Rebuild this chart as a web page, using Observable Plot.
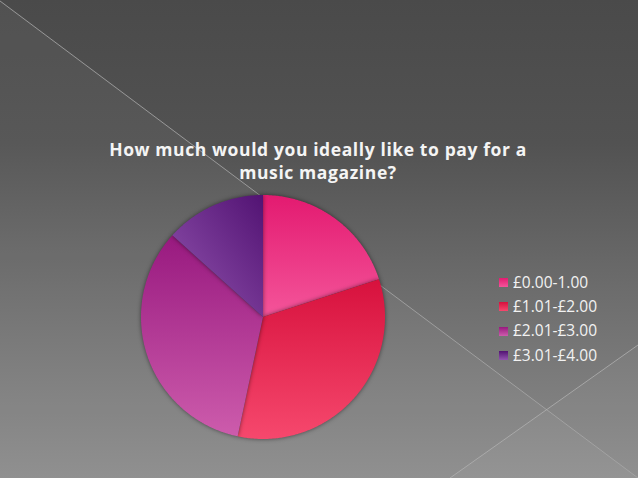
<!DOCTYPE html>
<html>
<head>
<meta charset="utf-8">
<script src="https://cdn.jsdelivr.net/npm/d3@7"></script>
<script src="https://cdn.jsdelivr.net/npm/@observablehq/plot@0.6"></script>
<style>
  html, body { margin: 0; padding: 0; background: #4b4b4b; }
  #slide { position: relative; width: 638px; height: 478px; overflow: hidden;
    background: linear-gradient(to bottom, #4a4a4a 0%, #525252 30%, #6c6c6c 60%, #8c8c8c 100%); }
  #bg, #chart { position: absolute; left: 0; top: 0; }
  #title { position: absolute; left: 0; width: 636px; top: 138px; text-align: center;
    font-family: "Open Sans", sans-serif; font-weight: 700; font-size: 17.5px; letter-spacing: 0.6px; line-height: 23px; color: #f4f4f4; }
  #legend { position: absolute; left: 499px; top: 270px; font-family: "Open Sans", sans-serif;
    font-size: 15.5px; line-height: 24.2px; color: #f2f2f2; }
  #legend .row { display: flex; align-items: center; white-space: nowrap; }
  #legend .sw { width: 9px; height: 9px; margin-right: 5px; margin-top: 1px; }
</style>
</head>
<body>
<div id="slide">
  <svg id="bg" width="638" height="478">
    <polygon points="0,0 638,478 0,478" fill="#ffffff" fill-opacity="0.04"></polygon>
    <polygon points="450,478 638,345 638,478" fill="#ffffff" fill-opacity="0.04"></polygon>
    <line x1="0" y1="1" x2="638" y2="478" stroke="#a8a8a8" stroke-width="1" stroke-opacity="0.8"></line>
    <line x1="450" y1="478" x2="638" y2="345" stroke="#b0b0b0" stroke-width="1" stroke-opacity="0.8"></line>
  </svg>
  <div id="chart"></div>
  <div id="title">How much would you ideally like to pay for a<br>music magazine?</div>
  <div id="legend"></div>
</div>
<script>
const categories = ["£0.00-1.00", "£1.01-£2.00", "£2.01-£3.00", "£3.01-£4.00"];
const counts = [3, 5, 5, 2];
const gradTop = ["#e31a70", "#d7113d", "#98197f", "#521373"];
const gradBottom = ["#f4559a", "#f6486d", "#cd5cac", "#9355b0"];

// slice outlines on a unit circle, computed from the data with d3.pie
const arcs = d3.pie().sort(null).value(d => d.count)(categories.map((c, i) => ({cat: c, count: counts[i]})));
const pts = [];
for (const a of arcs) {
  const cat = a.data.cat;
  pts.push({cat, x: 0, y: 0});
  const n = Math.max(2, Math.ceil((a.endAngle - a.startAngle) / 0.01));
  for (let k = 0; k <= n; k++) {
    const t = a.startAngle + (a.endAngle - a.startAngle) * k / n;
    pts.push({cat, x: Math.sin(t), y: Math.cos(t)});
  }
  pts.push({cat, x: 0, y: 0});
}

const W = 638, H = 478, cx = 262.5, cy = 316.5, r = 122;
const chart = Plot.plot({
  width: W, height: H,
  marginTop: 0, marginRight: 0, marginBottom: 0, marginLeft: 0,
  style: {background: "transparent"},
  x: {domain: [(0 - cx) / r, (W - cx) / r], axis: null},
  y: {domain: [(cy - H) / r, cy / r], axis: null},
  color: {domain: categories, range: gradTop},
  marks: [
    Plot.line(pts, {x: "x", y: "y", z: "cat", fill: "cat", stroke: "none"})
  ]
});

// add vertical gradients to the slices
const ns = "http://www.w3.org/2000/svg";
const defs = document.createElementNS(ns, "defs");
categories.forEach((c, i) => {
  const g = document.createElementNS(ns, "linearGradient");
  g.setAttribute("id", `grad${i}`);
  g.setAttribute("x1", i === 3 ? "1" : "0"); g.setAttribute("y1", "0");
  g.setAttribute("x2", "0"); g.setAttribute("y2", "1");
  [[0, gradTop[i]], [1, gradBottom[i]]].forEach(([o, col]) => {
    const s = document.createElementNS(ns, "stop");
    s.setAttribute("offset", o); s.setAttribute("stop-color", col);
    g.appendChild(s);
  });
  defs.appendChild(g);
});
chart.insertBefore(defs, chart.firstChild);
chart.querySelectorAll("path").forEach(p => {
  const f = (p.getAttribute("fill") || "").toLowerCase();
  const i = gradTop.indexOf(f);
  if (i >= 0) p.setAttribute("fill", `url(#grad${i})`);
  p.style.filter = "drop-shadow(0 0 2px rgba(0,0,0,0.5))";
});
document.getElementById("chart").appendChild(chart);

const legend = document.getElementById("legend");
categories.forEach((c, i) => {
  const row = document.createElement("div");
  row.className = "row";
  const sw = document.createElement("div");
  sw.className = "sw";
  sw.style.background = `linear-gradient(${gradTop[i]}, ${gradBottom[i]})`;
  const label = document.createElement("span");
  label.textContent = c;
  row.appendChild(sw); row.appendChild(label);
  legend.appendChild(row);
});
</script>
</body>
</html>
